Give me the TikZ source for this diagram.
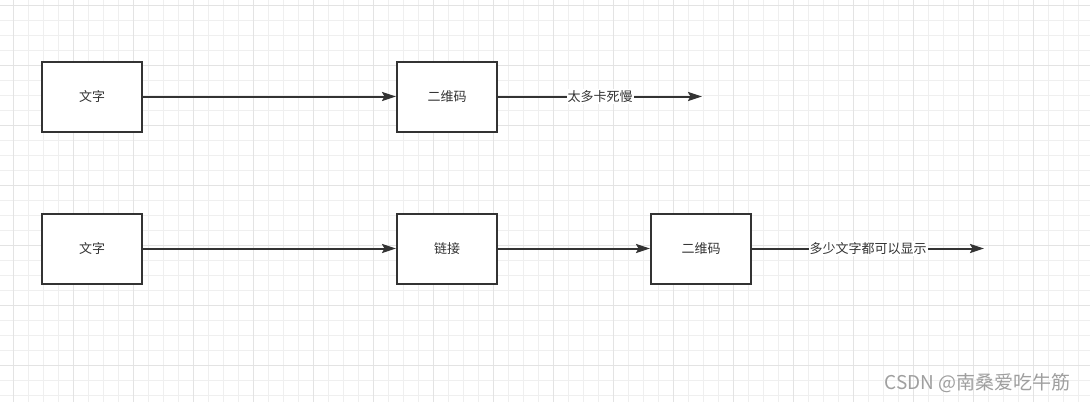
\documentclass[tikz,border=0pt]{standalone}
\usepackage{fontspec}
\setmainfont{Noto Sans CJK SC}
\usetikzlibrary{arrows.meta}
\definecolor{inkgray}{HTML}{333333}
\definecolor{gridline}{HTML}{EFEFEF}
\definecolor{gridmajor}{HTML}{E3E3E3}
\tikzset{box/.style = {draw=inkgray, line width=2pt, fill=white, text=inkgray,
                        minimum width=100pt, minimum height=70pt, inner sep=0pt,
                        font=\fontsize{13}{15}\selectfont},
         flow/.style = {draw=inkgray, line width=2pt, -{Stealth[length=14pt,width=9pt,inset=2.5pt]}},
         tag/.style = {fill=white, inner sep=1pt, text=inkgray, font=\fontsize{13}{15}\selectfont}}

\begin{document}
\begin{tikzpicture}[x=1pt, y=-1pt]
	\useasboundingbox (0,0) rectangle (1090,402);
	\fill[white] (0,0) rectangle (1090,402);
% background grid
	\foreach \x in {13,28,...,1090} \draw[gridline, line width=0.8pt] (\x,0) -- (\x,402);
	\foreach \y in {5,20,...,402} \draw[gridline, line width=0.8pt] (0,\y) -- (1090,\y);
	\foreach \x in {13,73,...,1090} \draw[gridmajor, line width=0.8pt] (\x,0) -- (\x,402);
	\foreach \y in {5,65,...,402} \draw[gridmajor, line width=0.8pt] (0,\y) -- (1090,\y);
% first row
\node[box] (textA) at (92,96.5) {文字};
\node[box] (qrA) at (447,96.5) {二维码};
\coordinate (endA) at (702,96.5);
\draw[flow] (textA) -- (qrA);
\draw[flow] (qrA) -- (endA) node [tag, midway] {太多卡死慢};
% second row
\node[box] (textB) at (92,248.5) {文字};
\node[box] (linkB) at (447,248.5) {链接};
\node[box] (qrB) at (701,248.5) {二维码};
\coordinate (endB) at (984,248.5);
\draw[flow] (textB) -- (linkB);
\draw[flow] (linkB) -- (qrB);
\draw[flow] (qrB) -- (endB) node [tag, midway] {多少文字都可以显示};
\node[text=gray!75, anchor=east, font=\fontsize{19}{21}\selectfont] (mark) at (1074,383) {CSDN @南桑爱吃牛筋};
\end{tikzpicture}
\end{document}
